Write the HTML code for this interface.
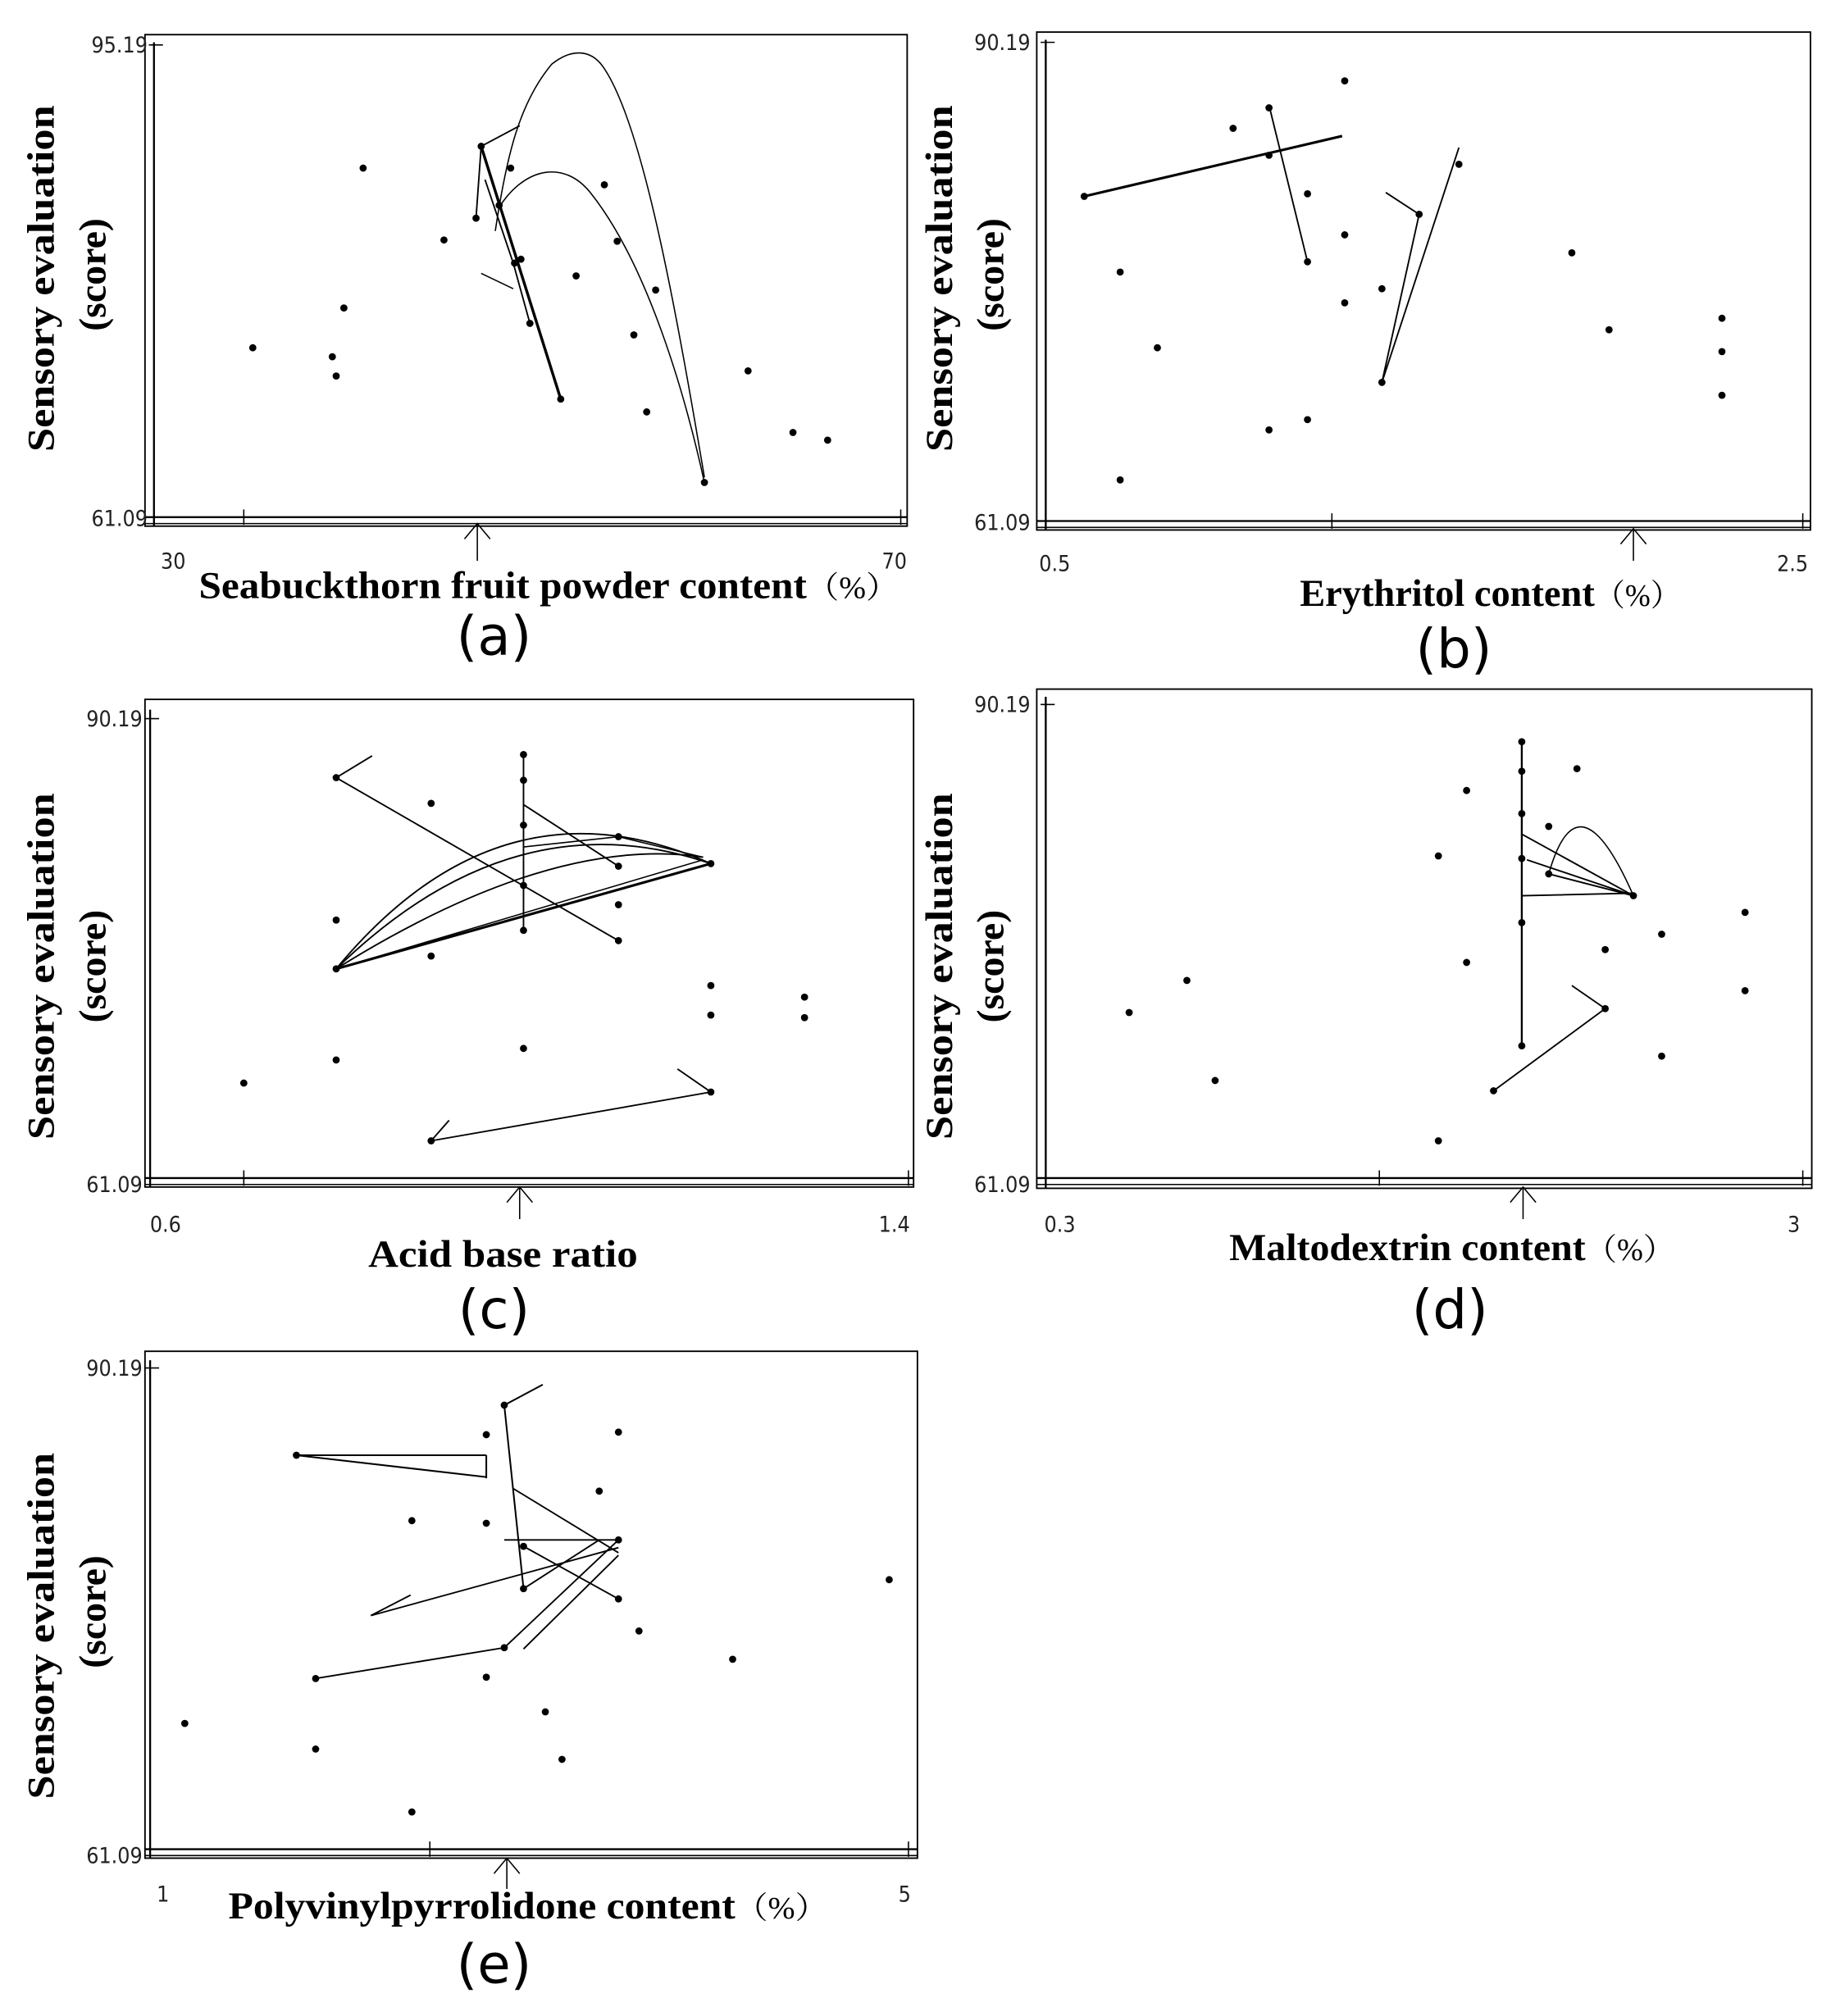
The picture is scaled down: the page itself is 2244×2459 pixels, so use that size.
<!DOCTYPE html>
<html><head><meta charset="utf-8"><style>
html,body{margin:0;padding:0;background:#fff;}
svg{display:block;}
.ax{font-family:"DejaVu Sans Condensed","Liberation Sans",sans-serif;font-size:17px;fill:#222;}
.tt{font-family:"Liberation Serif",serif;font-weight:bold;font-size:30px;fill:#000;}
.cap{font-family:"DejaVu Sans","Liberation Sans",sans-serif;font-size:42px;fill:#000;}
.pc{font-family:"Liberation Serif","Noto Serif CJK SC",serif;font-size:24px;font-weight:normal;}
line,path,polyline,rect{fill:none;stroke:#000;}
circle{fill:#000;}
</style></head><body>
<svg width="2244" height="2459" viewBox="0 0 1434 1571" preserveAspectRatio="none" xmlns="http://www.w3.org/2000/svg">
<!-- PANEL A -->
<g>
<rect x="113" y="27" width="594" height="383" stroke-width="1.2"/>
<line x1="120" y1="33" x2="120" y2="410" stroke-width="1.5"/>
<line x1="113" y1="403" x2="707" y2="403" stroke-width="1.5"/>
<line x1="113" y1="408" x2="707" y2="408" stroke-width="1"/>
<line x1="116" y1="35" x2="127" y2="35"/>
<line x1="190" y1="397" x2="190" y2="409"/><line x1="702" y1="397" x2="702" y2="409"/>
<text class="ax" x="115" y="41" text-anchor="end">95.19</text>
<text class="ax" x="115" y="410" text-anchor="end">61.09</text>
<text class="ax" x="135" y="443" text-anchor="middle">30</text>
<text class="ax" x="697" y="443" text-anchor="middle">70</text>
<path d="M372 437 V408 M362 420 L372 408 L382 420"/>
<text class="tt" x="155" y="466" textLength="545" lengthAdjust="spacingAndGlyphs">Seabuckthorn fruit powder content<tspan class="pc">（%）</tspan></text>
<text class="cap" x="385" y="510" text-anchor="middle">(a)</text>
<text class="tt" transform="translate(42,352) rotate(-90)" textLength="270" lengthAdjust="spacingAndGlyphs">Sensory evaluation</text>
<text class="tt" transform="translate(82,258) rotate(-90)" textLength="88" lengthAdjust="spacingAndGlyphs">(score)</text>
<path d="M386 180 C395 120 405 80 430 50 C445 38 460 38 470 52 C500 95 525 230 549 372" stroke-width="1"/>
<path d="M390 160 C410 130 440 125 460 150 C500 200 530 290 549 376" stroke-width="1"/>
<path d="M375 114 L437 311" stroke-width="2.2"/>
<path d="M371 170 L375 114 L405 98" stroke-width="1.2"/>
<path d="M375 213 L400 225" stroke-width="1"/>
<path d="M378 140 L400 205 L413 252" stroke-width="1.2"/>
<g>
<circle cx="197" cy="271" r="2.8"/><circle cx="259" cy="278" r="2.8"/><circle cx="262" cy="293" r="2.8"/><circle cx="268" cy="240" r="2.8"/><circle cx="283" cy="131" r="2.8"/><circle cx="346" cy="187" r="2.8"/><circle cx="371" cy="170" r="2.8"/><circle cx="375" cy="114" r="2.8"/><circle cx="398" cy="131" r="2.8"/><circle cx="389" cy="160" r="2.8"/><circle cx="401" cy="205" r="2.8"/><circle cx="406" cy="202" r="2.8"/><circle cx="413" cy="252" r="2.8"/><circle cx="437" cy="311" r="2.8"/><circle cx="449" cy="215" r="2.8"/><circle cx="471" cy="144" r="2.8"/><circle cx="481" cy="188" r="2.8"/><circle cx="494" cy="261" r="2.8"/><circle cx="504" cy="321" r="2.8"/><circle cx="511" cy="226" r="2.8"/><circle cx="549" cy="376" r="2.8"/><circle cx="583" cy="289" r="2.8"/><circle cx="618" cy="337" r="2.8"/><circle cx="645" cy="343" r="2.8"/>
</g>
</g>
<!-- PANEL B -->
<g>
<rect x="808" y="25" width="603" height="388" stroke-width="1.2"/>
<line x1="815" y1="31" x2="815" y2="413" stroke-width="1.5"/>
<line x1="808" y1="406" x2="1411" y2="406" stroke-width="1.5"/>
<line x1="808" y1="411" x2="1411" y2="411"/>
<line x1="811" y1="33" x2="822" y2="33"/>
<line x1="1038" y1="400" x2="1038" y2="412"/><line x1="1405" y1="400" x2="1405" y2="412"/>
<text class="ax" x="803" y="39" text-anchor="end">90.19</text>
<text class="ax" x="803" y="413" text-anchor="end">61.09</text>
<text class="ax" x="822" y="445" text-anchor="middle">0.5</text>
<text class="ax" x="1397" y="445" text-anchor="middle">2.5</text>
<path d="M1273 437 V412 M1263 424 L1273 412 L1283 424"/>
<text class="tt" x="1013" y="472" textLength="297" lengthAdjust="spacingAndGlyphs">Erythritol content<tspan class="pc">（%）</tspan></text>
<text class="cap" x="1133" y="520" text-anchor="middle">(b)</text>
<text class="tt" transform="translate(742,352) rotate(-90)" textLength="270" lengthAdjust="spacingAndGlyphs">Sensory evaluation</text>
<text class="tt" transform="translate(782,258) rotate(-90)" textLength="88" lengthAdjust="spacingAndGlyphs">(score)</text>
<path d="M845 153 L1046 106" stroke-width="2"/>
<path d="M989 82 L1019 204" stroke-width="1.2"/>
<path d="M1077 298 L1137 115 M1077 298 L1106 167 L1080 150" stroke-width="1.2"/>
<g>
<circle cx="845" cy="153" r="2.8"/><circle cx="873" cy="212" r="2.8"/><circle cx="873" cy="374" r="2.8"/><circle cx="902" cy="271" r="2.8"/><circle cx="961" cy="100" r="2.8"/><circle cx="989" cy="84" r="2.8"/><circle cx="989" cy="121" r="2.8"/><circle cx="989" cy="335" r="2.8"/><circle cx="1019" cy="151" r="2.8"/><circle cx="1019" cy="204" r="2.8"/><circle cx="1019" cy="327" r="2.8"/><circle cx="1048" cy="63" r="2.8"/><circle cx="1048" cy="183" r="2.8"/><circle cx="1048" cy="236" r="2.8"/><circle cx="1077" cy="225" r="2.8"/><circle cx="1077" cy="298" r="2.8"/><circle cx="1106" cy="167" r="2.8"/><circle cx="1137" cy="128" r="2.8"/><circle cx="1225" cy="197" r="2.8"/><circle cx="1254" cy="257" r="2.8"/><circle cx="1342" cy="248" r="2.8"/><circle cx="1342" cy="274" r="2.8"/><circle cx="1342" cy="308" r="2.8"/>
</g>
</g>
<!-- PANEL C -->
<g>
<rect x="113" y="545" width="599" height="380" stroke-width="1.2"/>
<line x1="117" y1="553" x2="117" y2="925" stroke-width="1.5"/>
<line x1="113" y1="918" x2="712" y2="918" stroke-width="1.5"/>
<line x1="113" y1="923" x2="712" y2="923"/>
<line x1="113" y1="560" x2="124" y2="560"/>
<line x1="190" y1="912" x2="190" y2="924"/><line x1="708" y1="912" x2="708" y2="924"/>
<text class="ax" x="111" y="566" text-anchor="end">90.19</text>
<text class="ax" x="111" y="929" text-anchor="end">61.09</text>
<text class="ax" x="129" y="960" text-anchor="middle">0.6</text>
<text class="ax" x="697" y="960" text-anchor="middle">1.4</text>
<path d="M405 950 V925 M395 937 L405 925 L415 937"/>
<text class="tt" x="287" y="987" textLength="210" lengthAdjust="spacingAndGlyphs">Acid base ratio</text>
<text class="cap" x="385" y="1035" text-anchor="middle">(c)</text>
<text class="tt" transform="translate(42,888) rotate(-90)" textLength="270" lengthAdjust="spacingAndGlyphs">Sensory evaluation</text>
<text class="tt" transform="translate(82,797) rotate(-90)" textLength="88" lengthAdjust="spacingAndGlyphs">(score)</text>
<path d="M262 606 L290 589 M262 606 L482 733" stroke-width="1.2"/>
<path d="M408 588 V725 M408 627 L482 675" stroke-width="1.2"/>
<path d="M262 755 Q400 620 554 673" stroke-width="1.2"/>
<path d="M262 755 Q390 600 554 673" stroke-width="1.2"/>
<path d="M262 755 Q430 650 548 668" stroke-width="1.2"/>
<path d="M262 755 L554 673" stroke-width="2"/>
<path d="M262 755 L548 670" stroke-width="1"/>
<path d="M408 660 L482 652 L548 668" stroke-width="1"/>
<path d="M336 889 L554 851 L528 833 M336 889 L350 873" stroke-width="1.2"/>
<g>
<circle cx="190" cy="844" r="2.8"/><circle cx="262" cy="606" r="2.8"/><circle cx="262" cy="717" r="2.8"/><circle cx="262" cy="755" r="2.8"/><circle cx="262" cy="826" r="2.8"/><circle cx="336" cy="626" r="2.8"/><circle cx="336" cy="745" r="2.8"/><circle cx="336" cy="889" r="2.8"/><circle cx="408" cy="588" r="2.8"/><circle cx="408" cy="608" r="2.8"/><circle cx="408" cy="643" r="2.8"/><circle cx="408" cy="690" r="2.8"/><circle cx="408" cy="725" r="2.8"/><circle cx="408" cy="817" r="2.8"/><circle cx="482" cy="652" r="2.8"/><circle cx="482" cy="675" r="2.8"/><circle cx="482" cy="705" r="2.8"/><circle cx="482" cy="733" r="2.8"/><circle cx="554" cy="673" r="2.8"/><circle cx="554" cy="768" r="2.8"/><circle cx="554" cy="791" r="2.8"/><circle cx="554" cy="851" r="2.8"/><circle cx="627" cy="777" r="2.8"/><circle cx="627" cy="793" r="2.8"/>
</g>
</g>
<!-- PANEL D -->
<g>
<rect x="808" y="537" width="604" height="389" stroke-width="1.2"/>
<line x1="815" y1="543" x2="815" y2="926" stroke-width="1.5"/>
<line x1="808" y1="918" x2="1412" y2="918" stroke-width="1.5"/>
<line x1="808" y1="923" x2="1412" y2="923"/>
<line x1="811" y1="549" x2="822" y2="549"/>
<line x1="1075" y1="912" x2="1075" y2="924"/><line x1="1405" y1="912" x2="1405" y2="924"/>
<text class="ax" x="803" y="555" text-anchor="end">90.19</text>
<text class="ax" x="803" y="929" text-anchor="end">61.09</text>
<text class="ax" x="826" y="960" text-anchor="middle">0.3</text>
<text class="ax" x="1398" y="960" text-anchor="middle">3</text>
<path d="M1187 950 V925 M1177 937 L1187 925 L1197 937"/>
<text class="tt" x="958" y="982" textLength="347" lengthAdjust="spacingAndGlyphs">Maltodextrin content<tspan class="pc">（%）</tspan></text>
<text class="cap" x="1130" y="1035" text-anchor="middle">(d)</text>
<text class="tt" transform="translate(742,888) rotate(-90)" textLength="270" lengthAdjust="spacingAndGlyphs">Sensory evaluation</text>
<text class="tt" transform="translate(782,797) rotate(-90)" textLength="88" lengthAdjust="spacingAndGlyphs">(score)</text>
<path d="M1186 578 V815" stroke-width="1.5"/>
<path d="M1186 650 L1273 698 M1186 698 L1273 696 M1190 670 L1273 698 M1207 681 L1273 698" stroke-width="1.2"/>
<path d="M1207 681 Q1230 600 1273 698" stroke-width="1"/>
<path d="M1164 850 L1251 786 L1225 768" stroke-width="1.2"/>
<g>
<circle cx="880" cy="789" r="2.8"/><circle cx="925" cy="764" r="2.8"/><circle cx="947" cy="842" r="2.8"/><circle cx="1121" cy="667" r="2.8"/><circle cx="1121" cy="889" r="2.8"/><circle cx="1143" cy="616" r="2.8"/><circle cx="1143" cy="750" r="2.8"/><circle cx="1164" cy="850" r="2.8"/><circle cx="1186" cy="578" r="2.8"/><circle cx="1186" cy="601" r="2.8"/><circle cx="1186" cy="634" r="2.8"/><circle cx="1186" cy="669" r="2.8"/><circle cx="1186" cy="719" r="2.8"/><circle cx="1186" cy="815" r="2.8"/><circle cx="1207" cy="644" r="2.8"/><circle cx="1207" cy="681" r="2.8"/><circle cx="1229" cy="599" r="2.8"/><circle cx="1251" cy="740" r="2.8"/><circle cx="1251" cy="786" r="2.8"/><circle cx="1273" cy="698" r="2.8"/><circle cx="1295" cy="728" r="2.8"/><circle cx="1295" cy="823" r="2.8"/><circle cx="1360" cy="711" r="2.8"/><circle cx="1360" cy="772" r="2.8"/>
</g>
</g>
<!-- PANEL E -->
<g>
<rect x="113" y="1053" width="602" height="395" stroke-width="1.2"/>
<line x1="117" y1="1060" x2="117" y2="1448" stroke-width="1.5"/>
<line x1="113" y1="1441" x2="715" y2="1441" stroke-width="1.5"/>
<line x1="113" y1="1446" x2="715" y2="1446"/>
<line x1="113" y1="1066" x2="124" y2="1066"/>
<line x1="335" y1="1435" x2="335" y2="1447"/><line x1="708" y1="1435" x2="708" y2="1447"/>
<text class="ax" x="111" y="1072" text-anchor="end">90.19</text>
<text class="ax" x="111" y="1452" text-anchor="end">61.09</text>
<text class="ax" x="127" y="1482" text-anchor="middle">1</text>
<text class="ax" x="705" y="1482" text-anchor="middle">5</text>
<path d="M395 1472 V1448 M385 1460 L395 1448 L405 1460"/>
<text class="tt" x="178" y="1495" textLength="467" lengthAdjust="spacingAndGlyphs">Polyvinylpyrrolidone content<tspan class="pc">（%）</tspan></text>
<text class="cap" x="385" y="1545" text-anchor="middle">(e)</text>
<text class="tt" transform="translate(42,1402) rotate(-90)" textLength="270" lengthAdjust="spacingAndGlyphs">Sensory evaluation</text>
<text class="tt" transform="translate(82,1300) rotate(-90)" textLength="88" lengthAdjust="spacingAndGlyphs">(score)</text>
<path d="M231 1134 L379 1134 M231 1134 L379 1151 M379 1134 V1152" stroke-width="1.3"/>
<path d="M393 1095 L423 1079 M393 1095 L408 1238" stroke-width="1.3"/>
<path d="M289 1259 L482 1206 M289 1259 L320 1243" stroke-width="1.2"/>
<path d="M246 1308 L393 1284 L482 1200" stroke-width="1.2"/>
<path d="M408 1205 L482 1246 M400 1160 L482 1210 M393 1200 L482 1200 M408 1285 L482 1212 M408 1238 L467 1200" stroke-width="1.2"/>
<g>
<circle cx="144" cy="1343" r="2.8"/><circle cx="231" cy="1134" r="2.8"/><circle cx="246" cy="1308" r="2.8"/><circle cx="246" cy="1363" r="2.8"/><circle cx="321" cy="1185" r="2.8"/><circle cx="321" cy="1412" r="2.8"/><circle cx="379" cy="1118" r="2.8"/><circle cx="379" cy="1187" r="2.8"/><circle cx="379" cy="1307" r="2.8"/><circle cx="393" cy="1095" r="2.8"/><circle cx="393" cy="1284" r="2.8"/><circle cx="408" cy="1205" r="2.8"/><circle cx="408" cy="1238" r="2.8"/><circle cx="425" cy="1334" r="2.8"/><circle cx="438" cy="1371" r="2.8"/><circle cx="467" cy="1162" r="2.8"/><circle cx="482" cy="1116" r="2.8"/><circle cx="482" cy="1200" r="2.8"/><circle cx="482" cy="1246" r="2.8"/><circle cx="498" cy="1271" r="2.8"/><circle cx="571" cy="1293" r="2.8"/><circle cx="693" cy="1231" r="2.8"/>
</g>
</g>
</svg>
</body></html>
